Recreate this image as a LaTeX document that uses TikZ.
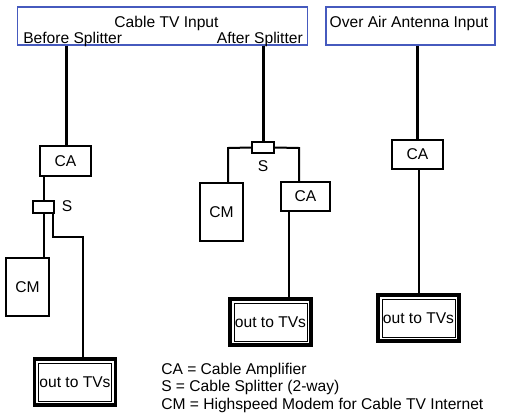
\documentclass[tikz,border=0pt]{standalone}
\usepackage{fontspec}
\setmainfont{Liberation Sans}
\begin{document}
\begin{tikzpicture}[x=0.75pt,y=-0.75pt,
  every node/.style={font=\fontsize{11.7}{13.5}\selectfont, inner sep=0pt},
  inbox/.style={draw=inblue, line width=0.9pt, rectangle},
  dev/.style={draw, line width=1.5pt, rectangle},
  outbox/.style={draw, line width=2.7pt, rectangle, minimum width=61pt, minimum height=34.5pt},
  wire/.style={line width=1.5pt},
  feed/.style={line width=2.25pt},
  txt/.style={inner sep=0pt}]
\definecolor{inblue}{RGB}{70,90,190}
\useasboundingbox (0,0) rectangle (510,419);
% input boxes
\node[inbox, minimum width=218pt, minimum height=28.5pt] (cab) at (162.5,26) {};
\node[inbox, minimum width=126.75pt, minimum height=28.5pt] (air) at (410.5,26) {};
\node[txt, anchor=base] (cabt) at (166.5,27) {Cable TV Input};
\node[txt, anchor=base west] (bef) at (23,43) {Before Splitter};
\node[txt, anchor=base east] (aft) at (303,43) {After Splitter};
\node[txt, anchor=base] (airt) at (409,27) {Over Air Antenna Input};
% left chain
\node[dev, minimum width=38.25pt, minimum height=22.5pt] (ca1) at (65.5,161) {CA};
\node[dev, minimum width=15.75pt, minimum height=9pt] (sp1) at (43.5,207) {};
\node[txt] (s1) at (67,206) {S};
\node[dev, minimum width=32.25pt, minimum height=43.5pt] (cm1) at (27.5,287) {CM};
\node[outbox] (out1) at (75,382) {out to TVs};
\draw[thin] ([shift={(6,6)}]out1.north west) rectangle ([shift={(-6,-6)}]out1.south east);
\coordinate (j1) at (83,237);
\draw[feed] (66,45.5) -- (ca1.north -| 66,0);
\draw[wire] (sp1.north) -- (sp1.north |- ca1.south);
\draw[wire] (sp1.south) -- (sp1.south |- cm1.north);
\draw[wire] ([xshift=7]sp1.south) |- (j1) -- (j1 |- out1.north);
% middle chain
\node[dev, minimum width=16.5pt, minimum height=8.25pt] (sp2) at (263,147.5) {};
\node[txt] (s2) at (263,166) {S};
\node[dev, minimum width=32.25pt, minimum height=43.5pt] (cm2) at (221.5,212) {CM};
\node[dev, minimum width=36.75pt, minimum height=21.75pt] (ca2) at (305.5,196.5) {CA};
\node[outbox] (out2) at (270.5,322) {out to TVs};
\draw[thin] ([shift={(6,6)}]out2.north west) rectangle ([shift={(-6,-6)}]out2.south east);
\coordinate (j2) at (228,148);
\coordinate (j3) at (299,148);
\draw[feed] (263,45.5) -- (sp2.north);
\draw[wire] (sp2.west) -- (j2) -- (j2 |- cm2.north);
\draw[wire] (sp2.east) -- (j3) -- (j3 |- ca2.north);
\draw[wire] (ca2.south -| 289,0) -- (out2.north -| 289,0);
% right chain
\node[dev, minimum width=38.25pt, minimum height=21.75pt] (ca3) at (417.5,154.5) {CA};
\node[outbox] (out3) at (418.5,318) {out to TVs};
\draw[thin] ([shift={(6,6)}]out3.north west) rectangle ([shift={(-6,-6)}]out3.south east);
\draw[feed] (air.south -| 417,0) -- (ca3.north -| 417,0);
\draw[wire] (ca3.south -| 419,0) -- (out3.north -| 419,0);
% legend
\node[txt, anchor=base west] (leg1) at (161,374) {CA = Cable Amplifier};
\node[txt, anchor=base west] (leg2) at (161,391.5) {S = Cable Splitter (2-way)};
\node[txt, anchor=base west] (leg3) at (161,409) {CM = Highspeed Modem for Cable TV Internet};
\end{tikzpicture}
\end{document}
